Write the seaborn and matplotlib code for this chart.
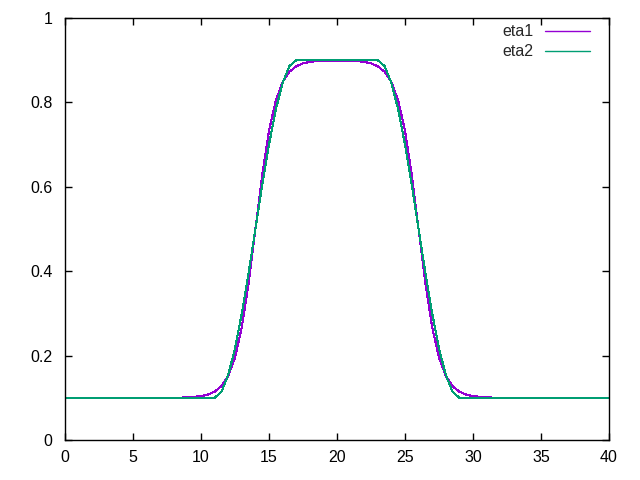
import matplotlib
matplotlib.use("Agg")
import matplotlib.pyplot as plt
import seaborn as sns
import pandas as pd

# eta1: smooth (tanh-like) profile
x_eta1 = [0, 8, 9, 10, 10.5, 11, 11.5, 12, 12.5, 13, 13.5, 14, 14.5, 15, 15.5,
          16, 16.5, 17, 17.5, 18, 19, 20, 21, 22, 22.5, 23, 23.5, 24, 24.5,
          25, 25.5, 26, 26.5, 27, 27.5, 28, 28.5, 29, 29.5, 30, 31, 32, 40]
y_eta1 = [0.1, 0.1, 0.101, 0.1039, 0.1075, 0.1144, 0.1275, 0.1518, 0.1954,
          0.2669, 0.3714, 0.5, 0.6286, 0.7331, 0.8046, 0.8482, 0.8725, 0.8856,
          0.8925, 0.8961, 0.899, 0.8993, 0.899, 0.8961, 0.8925, 0.8856, 0.8725,
          0.8482, 0.8046, 0.7331, 0.6286, 0.5, 0.3714, 0.2669, 0.1954, 0.1518,
          0.1275, 0.1144, 0.1075, 0.1039, 0.101, 0.1, 0.1]

# eta2: profile with flat plateau and sharper shoulders
x_eta2 = [0, 11, 11.5, 12, 12.5, 13, 13.5, 14, 14.5, 15, 15.5, 16, 16.5, 17,
          23, 23.5, 24, 24.5, 25, 25.5, 26, 26.5, 27, 27.5, 28, 28.5, 29, 40]
y_eta2 = [0.1, 0.1, 0.114, 0.154, 0.217, 0.3, 0.396, 0.5, 0.604, 0.7, 0.783,
          0.846, 0.886, 0.9, 0.9, 0.886, 0.846, 0.783, 0.7, 0.604, 0.5, 0.396,
          0.3, 0.217, 0.154, 0.114, 0.1, 0.1]

x_ticks = [0, 5, 10, 15, 20, 25, 30, 35, 40]
y_ticks = [0, 0.2, 0.4, 0.6, 0.8, 1]
y_tick_labels = ["0", "0.2", "0.4", "0.6", "0.8", "1"]

df = pd.DataFrame({
    "x": x_eta1 + x_eta2,
    "eta": y_eta1 + y_eta2,
    "series": ["eta1"] * len(x_eta1) + ["eta2"] * len(x_eta2),
})

sns.set_style("ticks")
plt.rcParams["font.family"] = ["Liberation Sans", "DejaVu Sans"]

fig = plt.figure(figsize=(6.4, 4.8), dpi=100)
ax = fig.add_axes([65 / 640, 40 / 480, 544 / 640, 422 / 480])

sns.lineplot(data=df, x="x", y="eta", hue="series",
             palette={"eta1": "#9400d3", "eta2": "#009e73"},
             linewidth=0.75, antialiased=False, ax=ax)

ax.set_xlim(0, 40)
ax.set_ylim(0, 1)
ax.set_xticks(x_ticks)
ax.set_yticks(y_ticks)
ax.set_yticklabels(y_tick_labels)
ax.set_xlabel("")
ax.set_ylabel("")
for s in ax.spines.values():
    s.set_visible(True)
    s.set_color("black")
    s.set_linewidth(1)
ax.tick_params(direction="in", top=True, right=True, length=5, width=1,
               labelsize=11.5, colors="black")
ax.tick_params(axis="x", pad=7)
ax.tick_params(axis="y", pad=9)

leg = ax.legend(loc="upper right", bbox_to_anchor=(0.965, 0.985), frameon=False,
                markerfirst=False, handlelength=2.8, handletextpad=0.75,
                labelspacing=0.3, borderpad=0, borderaxespad=0, fontsize=11.5)
for h in leg.get_lines():
    h.set_linewidth(1)

fig.savefig("out.png", dpi=100)
